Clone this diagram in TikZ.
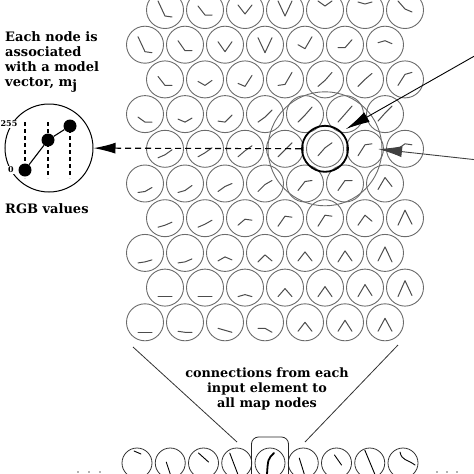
\documentclass[tikz,border=0pt]{standalone}
\usepackage{fontspec}
\setmainfont{DejaVu Serif}
\usetikzlibrary{arrows.meta,calc}
\definecolor{cellgray}{gray}{0.42}
\definecolor{glyphgray}{gray}{0.3}
\begin{document}
\begin{tikzpicture}[x=1pt,y=-1pt,
  cell/.style={circle,draw=cellgray,line width=0.9pt,minimum size=37pt,inner sep=0pt},
  glyph/.style={draw=glyphgray,line width=1pt,line cap=round,line join=round},
  lbl/.style={font=\fontsize{13}{15}\selectfont\bfseries,anchor=base west,inner sep=0pt},
  clbl/.style={font=\fontsize{12.8}{15}\selectfont\bfseries,anchor=base,inner sep=0pt},
  ptr/.style={line width=0.9pt,-{Latex[length=24pt,width=11pt]}},
  vdash/.style={line width=1.3pt,dash pattern=on 4pt off 3pt},
  dot/.style={circle,fill=black,minimum size=13pt,inner sep=0pt},
  icell/.style={circle,draw=black!80,line width=0.8pt,minimum size=30pt,inner sep=0pt},
  istroke/.style={line width=0.9pt,line cap=round}]
\useasboundingbox (0,0) rectangle (474,474);
\clip (0,0) rectangle (474,474);
% ---- map grid ----
\foreach \i/\j/\r/\g/\b in {
 0/0/0.95/0.2/0.15, 0/1/0.7/0.25/0.25, 0/2/0.75/0.3/0.75, 0/3/0.95/0.2/0.95, 0/4/0.95/0.7/0.95, 0/5/0.9/0.8/0.9, 0/6/0.95/0.55/0.4,
 1/0/0.9/0.15/0.1, 1/1/0.7/0.2/0.2, 1/2/0.65/0.15/0.65, 1/3/0.85/0.1/0.85, 1/4/0.5/0.3/0.9, 1/5/0.35/0.35/0.75, 1/6/0.6/0.7/0.55,
 2/0/0.65/0.2/0.2, 2/1/0.4/0.2/0.45, 2/2/0.3/0.15/0.7, 2/3/0.2/0.25/0.85, 2/4/0.15/0.45/0.85, 2/5/0.15/0.5/0.8, 2/6/0.2/0.75/0.85,
 3/0/0.35/0.1/0.1, 3/1/0.25/0.1/0.3, 3/2/0.15/0.1/0.45, 3/3/0.1/0.35/0.7, 3/4/0.1/0.45/0.85, 3/5/0.1/0.5/0.9, 3/6/0.15/0.55/0.9,
 4/0/0.05/0.2/0.45, 4/1/0.1/0.3/0.55, 4/2/0.1/0.4/0.65, 4/3/0.1/0.45/0.8, 4/4/0.15/0.55/0.8, 4/5/0.15/0.7/0.75, 4/6/0.5/0.75/0.7,
 5/0/0.05/0.1/0.3, 5/1/0.05/0.15/0.4, 5/2/0.1/0.35/0.5, 5/3/0.1/0.45/0.65, 5/4/0.15/0.6/0.65, 5/5/0.15/0.65/0.65, 5/6/0.2/0.8/0.35,
 6/0/0.05/0.15/0.3, 6/1/0.05/0.2/0.4, 6/2/0.15/0.45/0.4, 6/3/0.1/0.6/0.55, 6/4/0.1/0.65/0.6, 6/5/0.15/0.65/0.35, 6/6/0.15/0.9/0.2,
 7/0/0.0/0.05/0.15, 7/1/0.0/0.05/0.2, 7/2/0.1/0.3/0.15, 7/3/0.05/0.4/0.1, 7/4/0.1/0.55/0.1, 7/5/0.05/0.6/0.1, 7/6/0.1/0.8/0.05,
 8/0/0.05/0.05/0.05, 8/1/0.05/0.05/0.05, 8/2/0.05/0.15/0.05, 8/3/0.05/0.45/0.05, 8/4/0.05/0.55/0.05, 8/5/0.05/0.65/0.1, 8/6/0.05/0.85/0.1,
 9/0/0.0/0.0/0.0, 9/1/0.05/0.0/0.0, 9/2/0.2/0.1/0.0, 9/3/0.2/0.2/0.0, 9/4/0.05/0.5/0.05, 9/5/0.05/0.6/0.05, 9/6/0.05/0.7/0.05}{
  \pgfmathsetmacro\cx{155+10*cos(180*\i)+40*\j}
  \pgfmathsetmacro\cy{10+34.7*\i}
  \node[cell] (c-\i-\j) at (\cx,\cy) {};
  \draw[glyph,shift={(c-\i-\j.center)}] (-7,{10-20*\r}) -- (0,{10-20*\g}) -- (7,{10-20*\b});
}
% neighbourhood and winner
\node[circle,draw=cellgray,line width=0.9pt,minimum size=114pt,inner sep=0pt] (nbhd) at (c-4-4) {};
\node[circle,draw=black,line width=1.8pt,minimum size=46pt,inner sep=0pt] (hl) at (c-4-4) {};
% incoming arrows
\coordinate (a1s) at (478,54);
\coordinate (a1e) at (346,129);
\draw[ptr] (a1s) -- (a1e);
\coordinate (a2s) at (478,160);
\coordinate (a2e) at (378,149);
\draw[ptr,draw=black!75] (a2s) -- (a2e);
% model vector circle
\node[circle,draw=black,line width=1pt,minimum size=88pt,inner sep=0pt] (mv) at (49,148) {};
\draw[line width=1.1pt,dash pattern=on 6pt off 4pt,-{Latex[length=22pt,width=11pt]}] (hl) -- (mv);
\draw[vdash] (25,122) -- (25,178);
\draw[vdash] (48,122) -- (48,178);
\draw[vdash] (70,122) -- (70,178);
\node[dot] (d1) at (25,170) {};
\node[dot] (d2) at (48,140) {};
\node[dot] (d3) at (70,126) {};
\draw[line width=1.1pt] (d1) -- (d2) -- (d3);
\node[fill=white,inner sep=0.8pt,font=\fontsize{8}{9}\selectfont\bfseries] (l255) at (9,124) {255};
\node[fill=white,inner sep=0.8pt,font=\fontsize{8}{9}\selectfont\bfseries] (l0) at (11,170) {0};
% left texts
\node[lbl] (t1) at (5,41) {Each node is};
\node[lbl] (t2) at (5,56) {associated};
\node[lbl] (t3) at (5,71) {with a model};
\node[lbl] (t4) at (5,86) {vector, m\raisebox{-3pt}{j}};
\node[lbl] (t5) at (5,213) {RGB values};
% bottom text
\node[clbl] (b1) at (267,377) {connections from each};
\node[clbl] (b2) at (267,392) {input element to};
\node[clbl] (b3) at (267,407) {all map nodes};
\coordinate (f1s) at (133,347);
\coordinate (f1e) at (237,442);
\coordinate (f2s) at (398,345);
\coordinate (f2e) at (305,442);
\draw[line width=0.8pt,draw=black!80] (f1s) -- (f1e);
\draw[line width=0.8pt,draw=black!80] (f2s) -- (f2e);
% input row
\foreach \k in {0,...,8}{
  \node[icell] (in-\k) at ({137+33.25*\k},463) {};
}
\node[draw=black!85,line width=0.8pt,rounded corners=7pt,minimum width=37pt,minimum height=52pt,inner sep=0pt] (sel) at (in-4.center) {};
\draw[istroke,shift={(in-0.center)}] (-3,-12) -- (4,-9);
\draw[istroke,shift={(in-1.center)}] (-4,-1) -- (0,11);
\draw[istroke,shift={(in-2.center)}] (-5,-10) -- (5,-1);
\draw[istroke,shift={(in-3.center)}] (-7,-10) -- (1,11);
\draw[istroke,line width=1.8pt,shift={(in-4.center)}] (4,-10) .. controls (-2,-4) .. (-3,11);
\draw[istroke,shift={(in-5.center)}] (-4,-5) -- (1,11);
\draw[istroke,shift={(in-6.center)}] (-2,-8) -- (5,2);
\draw[istroke,shift={(in-7.center)}] (-5,-13) -- (5,11);
\draw[istroke,shift={(in-8.center)}] (-3,-11) .. controls (-1,-2) and (4,-4) .. (12,2);
\foreach \x in {78,89,100,437,447,457}{
  \fill[black!60] (\x,472) circle (0.8);
}
\end{tikzpicture}
\end{document}
